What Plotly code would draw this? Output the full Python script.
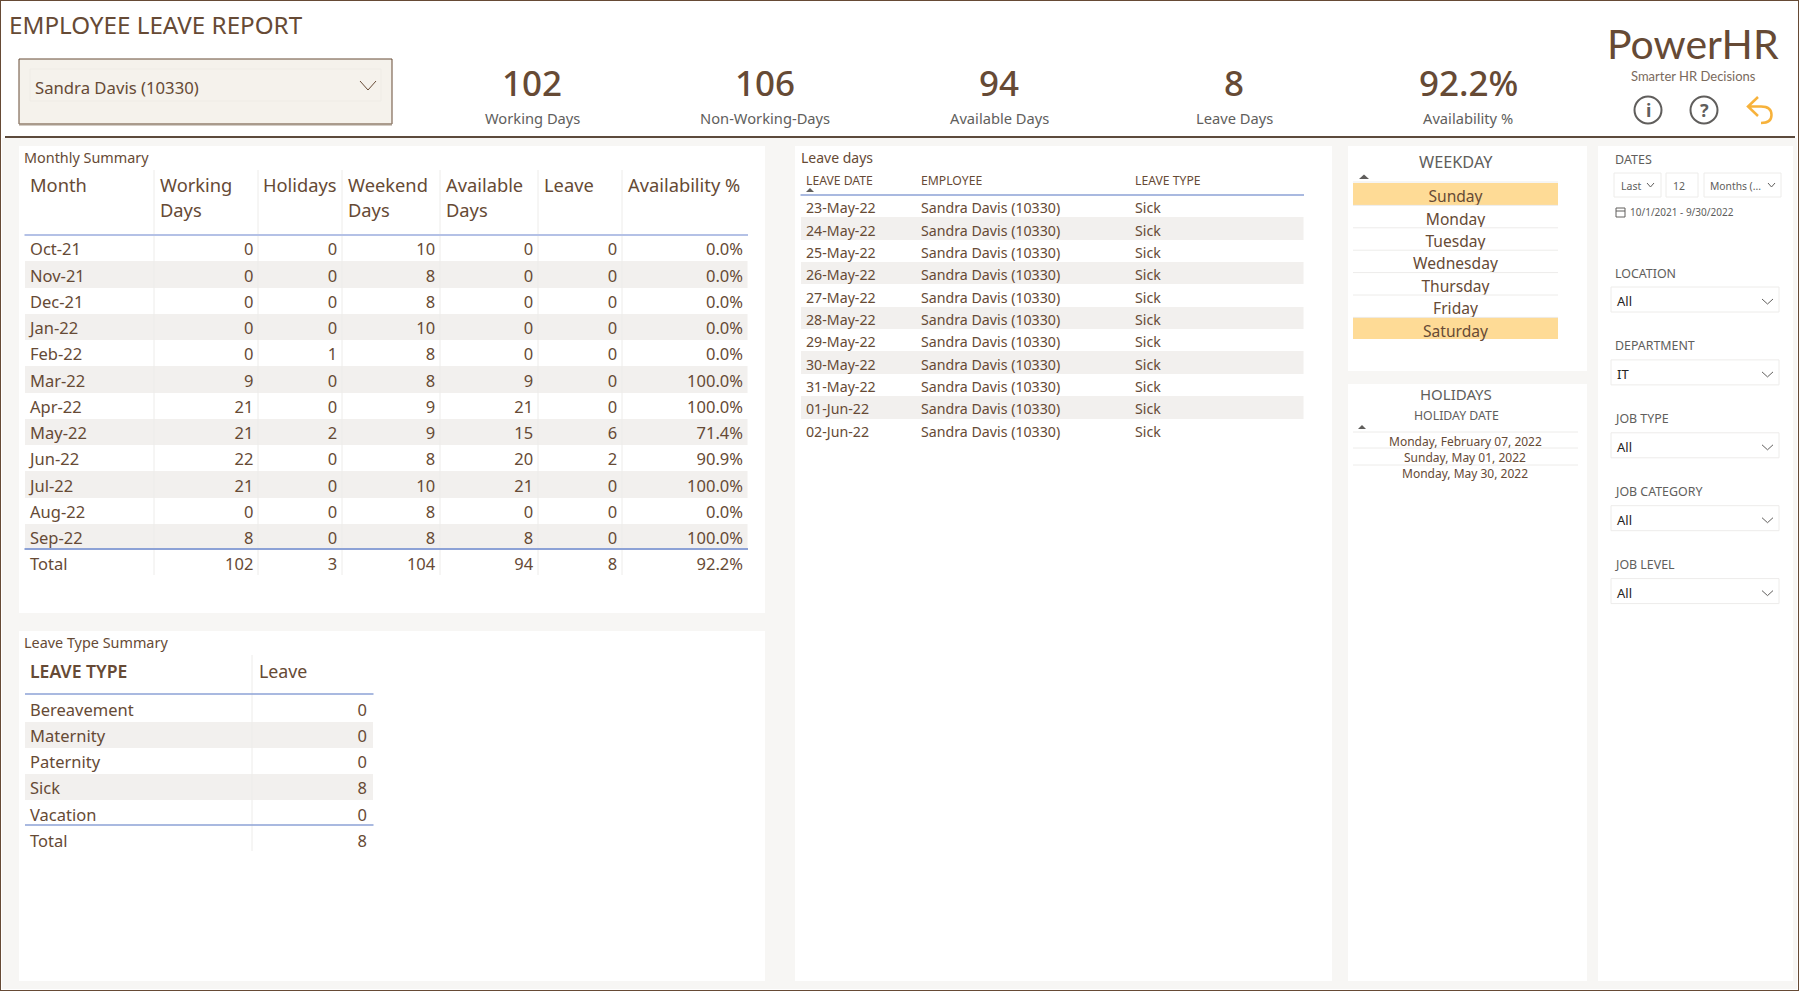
import plotly.graph_objects as go

W, H = 1799, 991
FONT = "Noto Sans"
BROWN = "#664a35"
GREY = "#605e5c"
DARK = "#252423"
BAND = "#f2f0ee"
RULE = "#8da2d6"
SEP = "#edecea"
PAGE = "#f7f6f4"
GOLD = "#fedb96"
CLEAR = "rgba(0,0,0,0)"

# monthly summary
months = ["Oct-21", "Nov-21", "Dec-21", "Jan-22", "Feb-22", "Mar-22", "Apr-22", "May-22", "Jun-22", "Jul-22", "Aug-22", "Sep-22", "Total"]
working_days = [0, 0, 0, 0, 0, 9, 21, 21, 22, 21, 0, 8, 102]
holidays = [0, 0, 0, 0, 1, 0, 0, 2, 0, 0, 0, 0, 3]
weekend_days = [10, 8, 8, 10, 8, 8, 9, 9, 8, 10, 8, 8, 104]
available_days = [0, 0, 0, 0, 0, 9, 21, 15, 20, 21, 0, 8, 94]
leave = [0, 0, 0, 0, 0, 0, 0, 6, 2, 0, 0, 0, 8]
availability = ["0.0%", "0.0%", "0.0%", "0.0%", "0.0%", "100.0%", "100.0%", "71.4%", "90.9%", "100.0%", "0.0%", "100.0%", "92.2%"]
monthly_heads = [["Month"], ["Working", "Days"], ["Holidays"], ["Weekend", "Days"], ["Available", "Days"], ["Leave"], ["Availability %"]]

# leave type summary
leave_types = ["Bereavement", "Maternity", "Paternity", "Sick", "Vacation", "Total"]
leave_by_type = [0, 0, 0, 8, 0, 8]

# leave days list
leave_dates = ["23-May-22", "24-May-22", "25-May-22", "26-May-22", "27-May-22", "28-May-22", "29-May-22", "30-May-22", "31-May-22", "01-Jun-22", "02-Jun-22"]
days_heads = ["LEAVE DATE", "EMPLOYEE", "LEAVE TYPE"]
employee = "Sandra Davis (10330)"
leave_kind = "Sick"

weekdays = ["Sunday", "Monday", "Tuesday", "Wednesday", "Thursday", "Friday", "Saturday"]
selected_days = ["Sunday", "Saturday"]
holiday_dates = ["Monday, February 07, 2022", "Sunday, May 01, 2022", "Monday, May 30, 2022"]

kpi_values = ["102", "106", "94", "8", "92.2%"]
kpi_labels = ["Working Days", "Non-Working-Days", "Available Days", "Leave Days", "Availability %"]

filter_labels = ["LOCATION", "DEPARTMENT", "JOB TYPE", "JOB CATEGORY", "JOB LEVEL"]
filter_values = ["All", "IT", "All", "All", "All"]


def px(x):
    return x / W


def py(y):
    return 1 - y / H


shapes = []
notes = []


def box(x0, y0, x1, y1, fill, line=None, width=1, layer="below"):
    shapes.append(dict(type="rect", xref="paper", yref="paper", x0=px(x0), x1=px(x1), y0=py(y0), y1=py(y1),
                       fillcolor=fill, line=dict(color=line or fill, width=width if line else 0), layer=layer))


def rule(x0, y0, x1, y1, color, width=1, layer="above"):
    shapes.append(dict(type="line", xref="paper", yref="paper", x0=px(x0), x1=px(x1), y0=py(y0), y1=py(y1),
                       line=dict(color=color, width=width), layer=layer))


def text(x, y, s, size, color=BROWN, anchor="left", family=FONT, weight=None):
    # annotations sit about 2px right of the asked position
    if anchor == "left":
        x -= 2
    notes.append(dict(xref="paper", yref="paper", x=px(x), y=py(y), text=s, showarrow=False, xanchor=anchor,
                      yanchor="middle", align=anchor, font=dict(family=family, size=size, color=color, weight=weight)))


def chevron(x0, x1, y0, y1, color=GREY):
    path = f"M {px(x0)} {py(y0)} L {px((x0 + x1) / 2)} {py(y1)} L {px(x1)} {py(y0)}"
    shapes.append(dict(type="path", xref="paper", yref="paper", path=path, line=dict(color=color, width=1), layer="above"))


def triangle(x0, x1, y0, y1):
    path = f"M {px(x0)} {py(y1)} L {px((x0 + x1) / 2)} {py(y0)} L {px(x1)} {py(y1)} Z"
    shapes.append(dict(type="path", xref="paper", yref="paper", path=path, fillcolor=GREY, line=dict(width=0), layer="above"))


def table(edges, y0, y1, cols, head_h, row_h, size, aligns, fills):
    # column heads are placed as annotations, the header row only keeps the space
    return go.Table(
        domain=dict(x=[px(edges[0]), px(edges[-1])], y=[py(y1), py(y0)]),
        columnwidth=[b - a for a, b in zip(edges, edges[1:])],
        header=dict(values=[""] * len(cols), height=head_h, line=dict(width=0), fill=dict(color=CLEAR),
                    font=dict(family=FONT, size=4)),
        cells=dict(values=cols, height=row_h, align=aligns, line=dict(width=0), fill=dict(color=fills),
                   font=dict(family=FONT, size=size, color=BROWN)))


def bands(x0, x1, y0, y1, n_rows, head_h, row_h):
    # the zebra stripes get their own empty table, its edges differ from the text columns
    stripes = ["white" if i % 2 == 0 else BAND for i in range(n_rows)]
    return table([x0, x1], y0, y1, [[""] * n_rows], head_h, row_h, 4, ["left"], [stripes])


# page and panels
box(0, 0, W, H, "white", BROWN, 2)
box(2, 138, W - 2, H - 2, PAGE)
for x0, y0, x1, y1 in [(19, 146, 765, 613), (19, 631, 765, 981), (795, 146, 1332, 981),
                       (1348, 146, 1587, 371), (1348, 384, 1587, 981), (1598, 146, 1793, 981)]:
    box(x0, y0, x1, y1, "white")
rule(5, 137, W - 4, 137, "#5c4a3c", 2)

# header
text(9, 24, "EMPLOYEE LEAVE REPORT", 24.2)
box(19, 59, 392, 124, "#f5f2ec", BROWN, 1)
rule(19, 124.5, 392, 124.5, "#a89a8c", 2)
box(30, 69, 381, 101, "#f5f2ec", "#efece6", 1)
text(35, 88, employee, 16.7, BROWN)
chevron(360, 376, 81, 90, BROWN)
for cx, val, lab in zip([532, 765, 999, 1234, 1468], kpi_values, kpi_labels):
    text(cx, 82, val, 35, BROWN, "center", weight=500)
    text(cx, 117.5, lab, 14.7, GREY, "center")
text(1693, 44, "PowerHR", 41, BROWN, "center", "Lato")
text(1693, 76, "Smarter HR Decisions", 13, "#7a6a5c", "center", "Lato")

# info, help and back icons
for cx, mark in [(1648, "i"), (1704, "?")]:
    shapes.append(dict(type="circle", xref="paper", yref="paper", x0=px(cx - 13.5), x1=px(cx + 13.5), y0=py(96.5), y1=py(123.5),
                       line=dict(color=GREY, width=2), layer="above"))
    text(cx, 110, f"<b>{mark}</b>", 18, GREY, "center")
back = (f"M {px(1758)} {py(97)} L {px(1748)} {py(106.5)} L {px(1758)} {py(116)} "
        f"M {px(1748)} {py(106.5)} L {px(1761)} {py(106.5)} "
        f"Q {px(1771.5)} {py(106.5)} {px(1771.5)} {py(115)} Q {px(1771.5)} {py(123)} {px(1761)} {py(123)}")
shapes.append(dict(type="path", xref="paper", yref="paper", path=back, line=dict(color="#f7b23b", width=2.5), layer="above"))

# monthly summary table
text(24, 157, "Monthly Summary", 14.4)
edges = [24.5, 154, 258, 342, 440, 538, 622, 748]
head_x = [30, 160, 263, 348, 446, 544, 628]
cols = [months, working_days, holidays, weekend_days, available_days, leave, availability]
monthly_bands = bands(edges[0], edges[-1], 170, 600, 12, 65, 26.25)
monthly = table([22] + [x + 3.5 for x in edges[1:]], 170, 600, cols, 65, 26.25, 16.5,
                ["left"] + ["right"] * 6, [[CLEAR] * 13] * 7)
for x, lines in zip(head_x, monthly_heads):
    for k, line in enumerate(lines):
        text(x, 185 + k * 25, line, 18.3)
for x in edges[1:-1]:
    rule(x, 170, x, 575, SEP)
rule(edges[0], 235, edges[-1], 235, "#b4c1e6", 2)
rule(edges[0], 549, edges[-1], 549, RULE, 2)

# leave type table
text(24, 642, "Leave Type Summary", 14.4)
type_bands = bands(25, 373.5, 655, 860, 5, 40.5, 26.2)
by_type = table([22, 252, 375], 655, 860, [leave_types, leave_by_type], 40.5, 26.2, 16.5,
                ["left", "right"], [[CLEAR] * 6] * 2)
text(30, 671, "LEAVE TYPE", 17.6, weight=600)
text(259, 671, "Leave", 17.8)
rule(252, 655, 252, 851, SEP)
rule(25, 694, 373.5, 694, RULE, 1.5)
rule(25, 825, 373.5, 825, RULE, 1.5)

# leave days list
text(800.5, 157, "Leave days", 14)
day_edges = [798, 913, 1127, 1304]
day_bands = bands(800.5, 1304, 167, 450, 11, 28, 22.35)
days = table(day_edges, 166.5, 450, [leave_dates, [employee] * 11, [leave_kind] * 11], 28, 22.35, 14.2,
             ["left"] * 3, [[CLEAR] * 11] * 3)
for x, head in zip([806, 921, 1135], days_heads):
    text(x, 180, head, 12.2)
rule(800.5, 195, 1304, 195, RULE, 1.5)
triangle(806, 814, 188, 192)

# weekday slicer
text(1456, 162, "WEEKDAY", 16.3, GREY, "center")
triangle(1359, 1369, 174.5, 179)
fills = [GOLD if d in selected_days else "white" for d in weekdays]
slicer = table([1353, 1558], 175.5, 345, [weekdays], 7, 22.4, 15.6, ["center"], [fills])
rule(1353, 182, 1558, 182, SEP)
for i in range(1, 7):
    rule(1353, 183 + i * 22.4, 1558, 183 + i * 22.4, SEP)

# holidays list
text(1456, 394, "HOLIDAYS", 15, GREY, "center")
text(1456, 416, "HOLIDAY DATE", 12.3, GREY, "center")
triangle(1358, 1366, 425, 429)
rule(1353, 432, 1578, 432, SEP)
rule(1353, 448, 1578, 448, SEP)
rule(1353, 465, 1578, 465, SEP)
for i, d in enumerate(holiday_dates):
    text(1465, 441.5 + i * 16.2, d, 12, BROWN, "center")

# filter pane
text(1615, 159, "DATES", 12.5, GREY)
for x0, x1 in [(1614, 1661), (1666, 1698), (1704, 1781)]:
    box(x0, 173, x1, 197, "white", SEP, 1, "above")
text(1621, 186, "Last", 10.5, GREY)
text(1673, 186, "12", 10.5, GREY)
text(1710, 186, "Months (...", 10.3, GREY)
chevron(1647, 1654, 183, 187)
chevron(1768, 1775, 183, 187)
box(1616, 208, 1625, 217, "white", GREY, 1, "above")
rule(1616, 211, 1625, 211, GREY)
text(1630, 212, "10/1/2021 - 9/30/2022", 10, GREY)
for i, (lab, val) in enumerate(zip(filter_labels, filter_values)):
    top = 287 + i * 72.9
    text(1615, top - 14, lab, 12.4, GREY)
    box(1611, top, 1779, top + 25, "white", SEP, 1, "above")
    text(1617, top + 14, val, 13, DARK)
    chevron(1762, 1773, top + 12, top + 17)

fig = go.Figure([monthly_bands, monthly, type_bands, by_type, day_bands, days, slicer])
fig.update_layout(width=W, height=H, margin=dict(l=0, r=0, t=0, b=0), paper_bgcolor="white",
                  shapes=shapes, annotations=notes, showlegend=False)
fig.write_html("out.html", config=dict(displayModeBar=False), post_script="document.body.style.margin='0';")
